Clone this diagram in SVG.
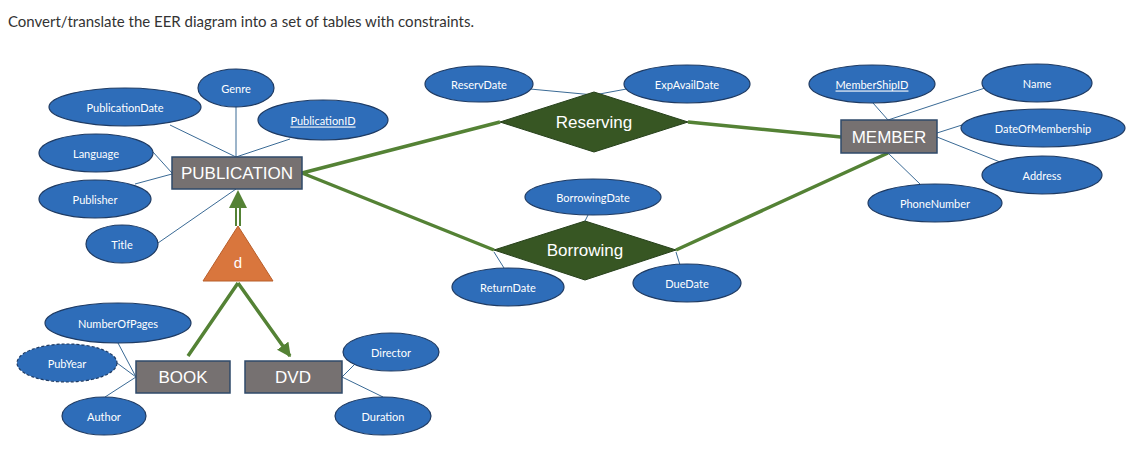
<svg xmlns="http://www.w3.org/2000/svg" width="1139" height="472" viewBox="0 0 1139 472">
<style>
.a{fill:#2E6DB9;stroke:#1F3B63;stroke-width:1.2}
.d{stroke-dasharray:3 2}
.at{fill:#fff;font-family:Lato,"Liberation Sans",sans-serif;font-size:11px;text-anchor:middle;dominant-baseline:central}
.e{fill:#767171;stroke:#2F4A6A;stroke-width:1.5}
.et{fill:#fff;font-family:"Liberation Sans",sans-serif;font-size:17px;text-anchor:middle;dominant-baseline:central}
.r{fill:#375623;stroke:#26401A;stroke-width:1}
.t{stroke:#3A6A95;stroke-width:1;fill:none}
.g{stroke:#548235;stroke-width:3.5;fill:none}
</style>
<defs>
<marker id="ah" viewBox="0 0 10 10" refX="9" refY="5" markerWidth="4" markerHeight="4" orient="auto-start-reverse"><path d="M0,0L10,5L0,10z" fill="#548235"/></marker>
</defs>
<rect width="1139" height="472" fill="#fff"/>
<text x="8" y="27" font-family="Lato,'Liberation Sans',sans-serif" font-size="15" fill="#333">Convert/translate the EER diagram into a set of tables with constraints.</text>
<g id="connectors">
<path class="g" d="M302,173L500,122M688,122L841,137M302,173L494,250M676,250L888,153"/>
<path class="t" d="M170,125L236,157M236,107L236,157M290,139L236,157M153,152L172,173M135,184L172,174M158,243L236,189"/>
<path class="t" d="M118,343L136,377M117,363L136,377M105,397L136,377M355,364L342,377M383,397L342,377"/>
<path class="t" d="M530,89L594,95M632,88L594,95M873,103L888,120M985,88L888,120M962,125L937,133M1000,162L937,137M920,184L888,153"/>
<path class="t" d="M588,215L585,221M504,268L494,252M680,265L676,252"/>
<path d="M236,226L236,206M240,226L240,206" stroke="#548235" stroke-width="2" fill="none"/>
<path d="M238,190L229,208L247,208z" fill="#548235"/>
<path class="g" d="M238,283L188,356M238,283L290,356" marker-end="url(#ah)"/>
</g>
<g id="PUBLICATION"><rect class="e" x="172" y="157" width="130" height="32"/><text class="et" x="237" y="173">PUBLICATION</text></g>
<g id="d"><path d="M238,226L273,281L203,281z" fill="#D9763D" stroke="#B85E2A"/><text x="238" y="268" fill="#fff" font-family="'Liberation Sans',sans-serif" font-size="15" text-anchor="middle">d</text></g>
<g id="BOOK"><rect class="e" x="136" y="361" width="94" height="32"/><text class="et" x="183" y="377">BOOK</text></g>
<g id="DVD"><rect class="e" x="245" y="361" width="97" height="32"/><text class="et" x="293" y="377">DVD</text></g>
<g id="MEMBER"><rect class="e" x="841" y="120" width="96" height="33"/><text class="et" x="889" y="137">MEMBER</text></g>
<g id="Reserving"><path class="r" d="M500,122L594,92L688,122L594,152z"/><text class="et" x="594" y="122">Reserving</text></g>
<g id="Borrowing"><path class="r" d="M494,250L585,221L676,250L585,280z"/><text class="et" x="585" y="250">Borrowing</text></g>
<g id="Genre"><ellipse class="a" cx="236" cy="88" rx="38" ry="19"/><text class="at" x="236" y="88">Genre</text></g>
<g id="PublicationDate"><ellipse class="a" cx="125" cy="107" rx="76" ry="19"/><text class="at" x="125" y="107">PublicationDate</text></g>
<g id="PublicationID"><ellipse class="a" cx="323" cy="120" rx="65" ry="20"/><text class="at" x="323" y="120" text-decoration="underline">PublicationID</text></g>
<g id="Language"><ellipse class="a" cx="96" cy="153" rx="57" ry="19"/><text class="at" x="96" y="153">Language</text></g>
<g id="Publisher"><ellipse class="a" cx="95" cy="199" rx="56" ry="19"/><text class="at" x="95" y="199">Publisher</text></g>
<g id="Title"><ellipse class="a" cx="122" cy="244" rx="36" ry="19"/><text class="at" x="122" y="244">Title</text></g>
<g id="NumberOfPages"><ellipse class="a" cx="118" cy="323" rx="73" ry="20"/><text class="at" x="118" y="323">NumberOfPages</text></g>
<g id="PubYear"><ellipse class="a d" cx="67" cy="363" rx="50" ry="19"/><text class="at" x="67" y="363">PubYear</text></g>
<g id="Author"><ellipse class="a" cx="104" cy="416" rx="42" ry="19"/><text class="at" x="104" y="416">Author</text></g>
<g id="Director"><ellipse class="a" cx="391" cy="352" rx="48" ry="19"/><text class="at" x="391" y="352">Director</text></g>
<g id="Duration"><ellipse class="a" cx="383" cy="416" rx="48" ry="19"/><text class="at" x="383" y="416">Duration</text></g>
<g id="ReservDate"><ellipse class="a" cx="479" cy="84" rx="54" ry="18"/><text class="at" x="479" y="84">ReservDate</text></g>
<g id="ExpAvailDate"><ellipse class="a" cx="687" cy="84" rx="63" ry="19"/><text class="at" x="687" y="84">ExpAvailDate</text></g>
<g id="MemberShipID"><ellipse class="a" cx="872" cy="84" rx="63" ry="19"/><text class="at" x="872" y="84" text-decoration="underline">MemberShipID</text></g>
<g id="Name"><ellipse class="a" cx="1037" cy="83" rx="55" ry="19"/><text class="at" x="1037" y="83">Name</text></g>
<g id="DateOfMembership"><ellipse class="a" cx="1043" cy="128" rx="82" ry="19"/><text class="at" x="1043" y="128">DateOfMembership</text></g>
<g id="Address"><ellipse class="a" cx="1042" cy="175" rx="60" ry="19"/><text class="at" x="1042" y="175">Address</text></g>
<g id="PhoneNumber"><ellipse class="a" cx="935" cy="203" rx="67" ry="19"/><text class="at" x="935" y="203">PhoneNumber</text></g>
<g id="BorrowingDate"><ellipse class="a" cx="593" cy="197" rx="68" ry="18"/><text class="at" x="593" y="197">BorrowingDate</text></g>
<g id="ReturnDate"><ellipse class="a" cx="508" cy="287" rx="56" ry="19"/><text class="at" x="508" y="287">ReturnDate</text></g>
<g id="DueDate"><ellipse class="a" cx="687" cy="283" rx="54" ry="19"/><text class="at" x="687" y="283">DueDate</text></g>
</svg>
